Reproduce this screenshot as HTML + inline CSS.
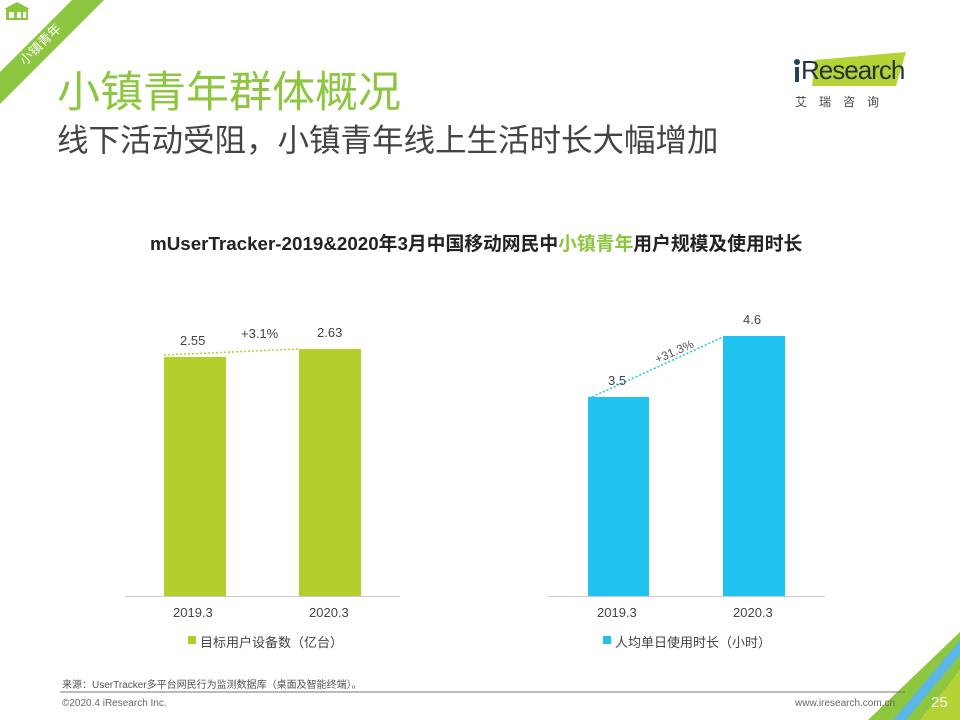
<!DOCTYPE html>
<html><head><meta charset="utf-8"><style>
body{margin:0;width:960px;height:720px;background:#fff;position:relative;overflow:hidden;font-family:"Liberation Sans","Noto Sans CJK SC",sans-serif}
.a{position:absolute;white-space:nowrap}
</style></head><body>
<svg class="a" style="left:0;top:0" width="960" height="720">
<polygon points="0,72 72,0 104,0 0,104" fill="#8dc63f"/>
<rect x="6" y="8" width="22" height="12" fill="#8dc63f"/>
<polygon points="4,9 17,2 30,9" fill="#8dc63f"/>
<rect x="9" y="12" width="5" height="6" fill="#fff"/><rect x="17" y="12" width="4" height="6" fill="#fff"/><rect x="23" y="12" width="3" height="6" fill="#fff"/>
<polygon points="815,60 906,52 896,86 812,86" fill="#b5d334"/>
<circle cx="797" cy="62" r="3" fill="#245"/>
<rect x="795" y="67" width="4" height="15" fill="#245"/>
<polygon points="960,632 960,720 868,720" fill="#8dc63f"/>
<polygon points="960,640 960,655 906,720 893,720" fill="#5bb8e6"/>
<polygon points="960,670 960,720 920,720" fill="#b5d334"/>
<line x1="60" y1="692" x2="905" y2="692" stroke="#777" stroke-width="1"/>
<line x1="125" y1="596.5" x2="400" y2="596.5" stroke="#ccc"/>
<line x1="548" y1="596.5" x2="825" y2="596.5" stroke="#ccc"/>
<rect x="164" y="357" width="62" height="239" fill="#b3cf2b"/>
<rect x="299" y="349" width="62" height="247" fill="#b3cf2b"/>
<line x1="164" y1="355" x2="299" y2="349" stroke="#b3cf2b" stroke-width="1.5" stroke-dasharray="2,2"/>
<rect x="588" y="397" width="61" height="199" fill="#1fc3ee"/>
<rect x="723" y="336" width="62" height="260" fill="#1fc3ee"/>
<line x1="592" y1="397" x2="723" y2="337" stroke="#1fc3ee" stroke-width="1.5" stroke-dasharray="2,2"/>
<rect x="188" y="636" width="8" height="8" fill="#b3cf2b"/>
<rect x="603" y="636" width="8" height="8" fill="#1fc3ee"/>
<text x="653" y="356" font-size="12" fill="#555" transform="rotate(-24 673 350)" font-family="Liberation Sans">+31.3%</text>
<text x="0" y="0" font-size="13" fill="#fff" text-anchor="middle" dominant-baseline="middle" transform="translate(41,45) rotate(-45)" font-family="Liberation Sans, Noto Sans CJK SC, sans-serif">小镇青年</text>
</svg>
<div class="a" style="left:57px;top:58px;font-size:43px;color:#8dc63f">小镇青年群体概况</div>
<div class="a" style="left:57px;top:115px;font-size:31.5px;color:#444">线下活动受阻，小镇青年线上生活时长大幅增加</div>
<div class="a" style="left:801px;top:55px;font-size:26px;color:#234;letter-spacing:-1px">Research</div>
<div class="a" style="left:795px;top:93px;font-size:12px;color:#444;letter-spacing:12px">艾瑞咨询</div>
<div class="a" style="left:150px;top:229px;font-size:18.8px;font-weight:bold;color:#222">mUserTracker-2019&amp;2020年3月中国移动网民中<span style="color:#8dc63f">小镇青年</span>用户规模及使用时长</div>
<div class="a" style="left:180px;top:333px;font-size:13px;color:#444">2.55</div>
<div class="a" style="left:241px;top:326px;font-size:13px;color:#444">+3.1%</div>
<div class="a" style="left:317px;top:325px;font-size:13px;color:#444">2.63</div>
<div class="a" style="left:608px;top:373px;font-size:13px;color:#444">3.5</div>
<div class="a" style="left:743px;top:312px;font-size:13px;color:#444">4.6</div>
<div class="a" style="left:173px;top:605px;font-size:13px;color:#444">2019.3</div>
<div class="a" style="left:309px;top:605px;font-size:13px;color:#444">2020.3</div>
<div class="a" style="left:597px;top:605px;font-size:13px;color:#444">2019.3</div>
<div class="a" style="left:733px;top:605px;font-size:13px;color:#444">2020.3</div>
<div class="a" style="left:200px;top:632px;font-size:13px;color:#444">目标用户设备数（亿台）</div>
<div class="a" style="left:615px;top:632px;font-size:13px;color:#444">人均单日使用时长（小时）</div>
<div class="a" style="left:62px;top:676px;font-size:10px;color:#555">来源：UserTracker多平台网民行为监测数据库（桌面及智能终端）。</div>
<div class="a" style="left:62px;top:698px;font-size:10px;color:#666">©2020.4 iResearch Inc.</div>
<div class="a" style="left:795px;top:698px;font-size:10px;color:#666">www.iresearch.com.cn</div>
<div class="a" style="left:931px;top:694px;font-size:15px;color:#eef">25</div>
</body></html>
